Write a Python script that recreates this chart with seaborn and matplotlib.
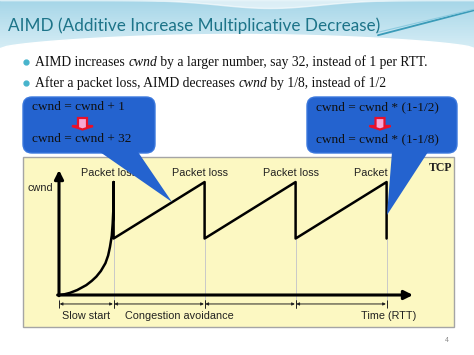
import numpy as np
import matplotlib
matplotlib.use("Agg")
import matplotlib.pyplot as plt
import seaborn as sns
from matplotlib.patches import FancyBboxPatch, Polygon, Rectangle

sns.set_theme(style="white")
plt.rcParams["font.family"] = ["Liberation Sans", "DejaVu Sans"]

# slow start part of the curve (time in RTT, cwnd)
ss_time = [0, 0.6, 1.2, 2.0, 3.0, 3.6, 4.1, 4.6, 5.1, 5.4, 5.6, 5.8, 5.9, 5.95, 6.0, 6.0]
ss_cwnd = [0, 0.1, 0.3, 0.7, 1.4, 2.0, 2.6, 3.4, 4.5, 5.6, 6.8, 8.4, 10.1, 11.5, 12.8, 16]
# congestion avoidance saw-tooth
ca_time = [6, 16, 16, 26, 26, 36, 36]
ca_cwnd = [8, 16, 8, 16, 8, 16, 8]
loss_times = [6, 16, 26, 36]
phase_edges = [0, 6, 16, 26, 36]

title = "AIMD (Additive Increase Multiplicative Decrease)"
bullets = [
    [("AIMD increases ", "normal"), ("cwnd", "italic"),
     (" by a larger number, say 32, instead of 1 per RTT.", "normal")],
    [("After a packet loss, AIMD decreases ", "normal"), ("cwnd", "italic"),
     (" by 1/8, instead of 1/2", "normal")],
]
left_rules = ["cwnd = cwnd + 1", "cwnd = cwnd + 32"]
right_rules = ["cwnd = cwnd * (1-1/2)", "cwnd = cwnd * (1-1/8)"]

fig = plt.figure(figsize=(4.74, 3.55), dpi=100)
fig.patch.set_facecolor("white")


def pixel_axes(z):
    a = fig.add_axes([0, 0, 1, 1], zorder=z)
    a.set_xlim(0, 474)
    a.set_ylim(355, 0)
    a.axis("off")
    a.patch.set_alpha(0)
    return a


bg = pixel_axes(0)

# header swoosh
grad = np.linspace(0, 1, 60).reshape(-1, 1)
cmap = matplotlib.colors.LinearSegmentedColormap.from_list("hdr", ["#a6d6e8", "#dcf0f7"])
bg.imshow(grad, cmap=cmap, extent=(0, 474, 55, 0), aspect="auto", zorder=0)
wx = np.linspace(0, 474, 80)
wy = 48 - 14 * np.sin(np.pi * wx / 474) ** 0.6
bg.fill_between(wx, wy, 60, color="white", zorder=1)
bg.fill_between(wx, 0, 8 * np.exp(-((wx - 270) / 70) ** 2), color="white", alpha=0.6, zorder=1)
sx = wx[wx > 375]
bg.plot(sx, 36 - (sx - 375) * 0.26, color="#3a9bb8", lw=1.3, zorder=2)
bg.plot(sx, 33 - (sx - 375) * 0.24, color="#8ccbe0", lw=0.8, zorder=2)

bg.text(8, 26, title, fontsize=12.3, color="#1d7489", va="center",
        family=["Lato", "DejaVu Sans"], zorder=3)

renderer = fig.canvas.get_renderer()
for i, parts in enumerate(bullets):
    y = 62 + 21 * i
    bg.plot(26, y, "o", ms=3.5, color="#47b4cc", zorder=3)
    x = 35
    for s, st in parts:
        t = bg.text(x, y + 4, s, fontsize=9.8, style=st, va="baseline",
                    family=["Liberation Serif"], color="#111111", zorder=3)
        x += t.get_window_extent(renderer).width

# yellow panel
bg.add_patch(Rectangle((23, 157), 431, 170, fc="#fcf8c2", ec="#a5a5a5", lw=1, zorder=1))
bg.text(441, 168, "TCP", fontsize=8.5, weight="bold", family=["Liberation Serif"],
        ha="center", va="center", color="#222222", zorder=3)
bg.text(447, 340, "4", fontsize=5, color="#8a8a8a", ha="center", va="center")

# data axes: t=0 at px 59, 9.1 px per RTT; cwnd=0 at px 295, 7.06 px per unit
ax = fig.add_axes([0, 0, 1, 1], zorder=1)
ax.patch.set_alpha(0)
ax.set_xlim(-59 / 9.1, (474 - 59) / 9.1)
ax.set_ylim(-60 / 7.06, 295 / 7.06)
ax.axis("off")

sns.lineplot(x=ss_time + ca_time, y=ss_cwnd + ca_cwnd, sort=False, estimator=None,
             color="black", lw=1.8, ax=ax, zorder=3)
ax.vlines(loss_times, -1.8, 8, color="#c9c9c9", lw=0.7, zorder=2)
ax.vlines([0], -1.8, -0.6, color="#c9c9c9", lw=0.7, zorder=2)

ax.annotate("", xy=(0, 17.7), xytext=(0, -0.1),
            arrowprops=dict(arrowstyle="-|>", lw=2.2, color="black", mutation_scale=13, shrinkA=0, shrinkB=0))
ax.annotate("", xy=(38.9, 0), xytext=(-0.15, 0),
            arrowprops=dict(arrowstyle="-|>", lw=2.2, color="black", mutation_scale=13, shrinkA=0, shrinkB=0))

for a, b in zip(phase_edges[:-1], phase_edges[1:]):
    ax.annotate("", xy=(b, -1.27), xytext=(a, -1.27),
                arrowprops=dict(arrowstyle="<|-|>", lw=0.7, color="#222222",
                                mutation_scale=4, shrinkA=0.5, shrinkB=0.5))
    ax.vlines([a, b], -1.9, -0.7, color="#222222", lw=0.7)

for lt in loss_times:
    ax.text(lt - 0.5, 17.3, "Packet loss", fontsize=7.8, ha="center", va="center", color="#222222")
ax.text(-2.1, 15.2, "cwnd", fontsize=7.8, ha="center", va="center", color="#222222")
ax.text(3.0, -2.97, "Slow start", fontsize=7.8, ha="center", va="center", color="#222222")
ax.text(7.25, -2.97, "Congestion avoidance", fontsize=7.8, ha="left", va="center", color="#222222")
ax.text(39.3, -2.97, "Time (RTT)", fontsize=7.8, ha="right", va="center", color="#222222")

# speech bubbles on top
fg = pixel_axes(2)
blue = "#2463cf"
for x0, x1, tail in [(23, 155, [(100, 152), (138, 152), (172, 202)]),
                     (307, 457, [(392, 152), (428, 152), (387, 215)])]:
    fg.add_patch(FancyBboxPatch((x0, 97), x1 - x0, 56, boxstyle="round,pad=0,rounding_size=9",
                                fc=blue, ec="#3b78dd", lw=1))
    fg.add_patch(Polygon(tail, closed=True, fc=blue, ec="none"))


def down_arrow(cx):
    body = [(cx - 4.5, 118), (cx + 4.5, 118), (cx + 4.5, 126), (cx + 10.5, 126),
            (cx, 129.5), (cx - 10.5, 126), (cx - 4.5, 126)]
    fg.add_patch(Polygon(body, closed=True, fc="#f7a8d4", ec="#e8102a", lw=1.6))


down_arrow(82.5)
down_arrow(380)
for i, (l, r) in enumerate(zip(left_rules, right_rules)):
    y = 107 + 32 * i
    fg.text(32, y, l, fontsize=9.6, family=["Liberation Serif"], va="center", color="#101010")
    fg.text(316, y, r, fontsize=9.6, family=["Liberation Serif"], va="center", color="#101010")

fig.savefig("out.png", dpi=100)
